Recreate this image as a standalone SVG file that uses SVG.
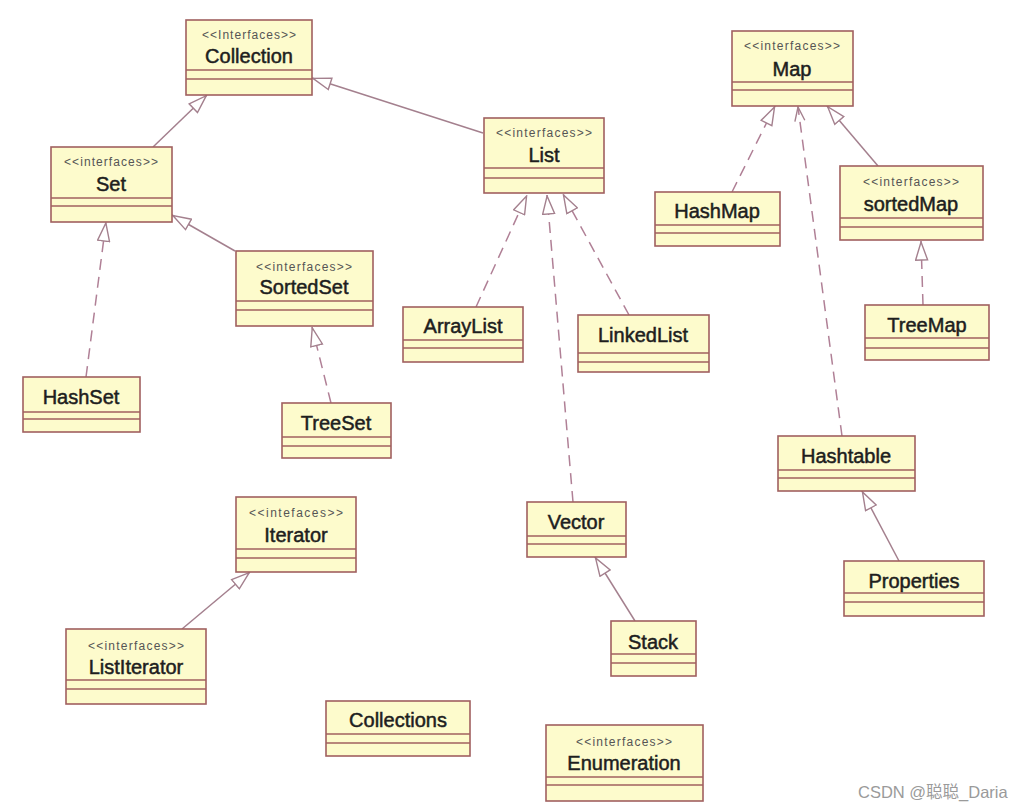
<svg xmlns="http://www.w3.org/2000/svg" width="1024" height="810" viewBox="0 0 1024 810">
<defs>
<style>
.box{fill:#fdfbcc;stroke:#a0605f;stroke-width:1.6}
.div{stroke:#a0605f;stroke-width:1.4}
.st{font-family:"Liberation Sans",Arial,sans-serif;font-size:12px;fill:#555;text-anchor:middle}
.nm{font-family:"Liberation Sans",Arial,sans-serif;font-size:20px;fill:#1e1e1e;stroke:#1e1e1e;stroke-width:0.5;text-anchor:middle}
.ln{fill:none;stroke:#a4808e;stroke-width:1.5}
.da{stroke-dasharray:11,7;stroke:#b08096}
.wm{font-family:"Liberation Sans","Noto Sans CJK SC",sans-serif;font-size:16.5px;fill:#9a9a9a}
</style>
<marker id="tri" viewBox="0 0 20 14" refX="20" refY="7" markerWidth="20" markerHeight="14" markerUnits="userSpaceOnUse" orient="auto">
<path d="M1,1 L19,7 L1,13 Z" fill="#ffffff" stroke="#a4808e" stroke-width="1.4" stroke-dasharray="none"/>
</marker>
<marker id="open" viewBox="0 0 16 12" refX="15" refY="6" markerWidth="16" markerHeight="12" markerUnits="userSpaceOnUse" orient="auto">
<path d="M1,1 L15,6 L1,11" fill="none" stroke="#a4808e" stroke-width="1.4" stroke-dasharray="none"/>
</marker>
</defs>
<rect x="0" y="0" width="1024" height="810" fill="#ffffff"/>

<g id="connectors">
<line class="ln" x1="153" y1="147" x2="207" y2="95" marker-end="url(#tri)"/>
<line class="ln" x1="483" y1="133" x2="312" y2="78" marker-end="url(#tri)"/>
<line class="ln da" x1="86" y1="377" x2="106" y2="222" marker-end="url(#tri)"/>
<line class="ln" x1="235" y1="251" x2="172" y2="215" marker-end="url(#tri)"/>
<line class="ln da" x1="331" y1="403" x2="312" y2="327" marker-end="url(#tri)"/>
<line class="ln da" x1="476" y1="307" x2="527" y2="195" marker-end="url(#tri)"/>
<line class="ln da" x1="573" y1="502" x2="547" y2="195" marker-end="url(#tri)"/>
<line class="ln da" x1="629" y1="315" x2="563" y2="194" marker-end="url(#tri)"/>
<line class="ln da" x1="732" y1="192" x2="775" y2="106" marker-end="url(#tri)"/>
<line class="ln da" x1="842" y1="436" x2="798" y2="107" marker-end="url(#open)"/>
<line class="ln" x1="878" y1="166" x2="827" y2="106" marker-end="url(#tri)"/>
<line class="ln da" x1="923" y1="305" x2="921" y2="241" marker-end="url(#tri)"/>
<line class="ln" x1="635" y1="621" x2="595" y2="557" marker-end="url(#tri)"/>
<line class="ln" x1="899" y1="561" x2="862" y2="491" marker-end="url(#tri)"/>
<line class="ln" x1="182" y1="629" x2="250" y2="572" marker-end="url(#tri)"/>
</g>

<g id="Collection">
<rect class="box" x="186" y="20" width="126" height="75"/>
<line class="div" x1="186" y1="70" x2="312" y2="70"/><line class="div" x1="186" y1="79" x2="312" y2="79"/>
<text class="st" x="249" y="39" textLength="94" lengthAdjust="spacing">&lt;&lt;Interfaces&gt;&gt;</text>
<text class="nm" x="249" y="63">Collection</text>
</g>
<g id="Set">
<rect class="box" x="51" y="147" width="121" height="75"/>
<line class="div" x1="51" y1="198" x2="172" y2="198"/><line class="div" x1="51" y1="206" x2="172" y2="206"/>
<text class="st" x="111" y="166" textLength="94" lengthAdjust="spacing">&lt;&lt;interfaces&gt;&gt;</text>
<text class="nm" x="111" y="191">Set</text>
</g>
<g id="List">
<rect class="box" x="484" y="118" width="120" height="75"/>
<line class="div" x1="484" y1="168" x2="604" y2="168"/><line class="div" x1="484" y1="178" x2="604" y2="178"/>
<text class="st" x="544" y="137" textLength="96" lengthAdjust="spacing">&lt;&lt;interfaces&gt;&gt;</text>
<text class="nm" x="544" y="162">List</text>
</g>
<g id="Map">
<rect class="box" x="732" y="31" width="121" height="75"/>
<line class="div" x1="732" y1="82" x2="853" y2="82"/><line class="div" x1="732" y1="90" x2="853" y2="90"/>
<text class="st" x="792" y="50" textLength="96" lengthAdjust="spacing">&lt;&lt;interfaces&gt;&gt;</text>
<text class="nm" x="792" y="76">Map</text>
</g>
<g id="HashMap">
<rect class="box" x="655" y="192" width="125" height="54"/>
<line class="div" x1="655" y1="225" x2="780" y2="225"/><line class="div" x1="655" y1="233" x2="780" y2="233"/>
<text class="nm" x="717" y="218">HashMap</text>
</g>
<g id="sortedMap">
<rect class="box" x="840" y="166" width="143" height="74"/>
<line class="div" x1="840" y1="218" x2="983" y2="218"/><line class="div" x1="840" y1="227" x2="983" y2="227"/>
<text class="st" x="911" y="186" textLength="96" lengthAdjust="spacing">&lt;&lt;interfaces&gt;&gt;</text>
<text class="nm" x="911" y="211">sortedMap</text>
</g>
<g id="SortedSet">
<rect class="box" x="236" y="251" width="137" height="75"/>
<line class="div" x1="236" y1="301" x2="373" y2="301"/><line class="div" x1="236" y1="310" x2="373" y2="310"/>
<text class="st" x="304" y="271" textLength="96" lengthAdjust="spacing">&lt;&lt;interfaces&gt;&gt;</text>
<text class="nm" x="304" y="294">SortedSet</text>
</g>
<g id="ArrayList">
<rect class="box" x="403" y="307" width="120" height="55"/>
<line class="div" x1="403" y1="340" x2="523" y2="340"/><line class="div" x1="403" y1="348" x2="523" y2="348"/>
<text class="nm" x="463" y="333">ArrayList</text>
</g>
<g id="LinkedList">
<rect class="box" x="578" y="315" width="131" height="57"/>
<line class="div" x1="578" y1="353" x2="709" y2="353"/><line class="div" x1="578" y1="362" x2="709" y2="362"/>
<text class="nm" x="643" y="342">LinkedList</text>
</g>
<g id="TreeMap">
<rect class="box" x="865" y="305" width="124" height="55"/>
<line class="div" x1="865" y1="338" x2="989" y2="338"/><line class="div" x1="865" y1="348" x2="989" y2="348"/>
<text class="nm" x="927" y="332">TreeMap</text>
</g>
<g id="HashSet">
<rect class="box" x="23" y="377" width="117" height="55"/>
<line class="div" x1="23" y1="412" x2="140" y2="412"/><line class="div" x1="23" y1="419" x2="140" y2="419"/>
<text class="nm" x="81" y="404">HashSet</text>
</g>
<g id="TreeSet">
<rect class="box" x="282" y="403" width="109" height="55"/>
<line class="div" x1="282" y1="437" x2="391" y2="437"/><line class="div" x1="282" y1="446" x2="391" y2="446"/>
<text class="nm" x="336" y="430">TreeSet</text>
</g>
<g id="Hashtable">
<rect class="box" x="778" y="436" width="137" height="55"/>
<line class="div" x1="778" y1="470" x2="915" y2="470"/><line class="div" x1="778" y1="478" x2="915" y2="478"/>
<text class="nm" x="846" y="463">Hashtable</text>
</g>
<g id="Vector">
<rect class="box" x="527" y="502" width="99" height="55"/>
<line class="div" x1="527" y1="536" x2="626" y2="536"/><line class="div" x1="527" y1="544" x2="626" y2="544"/>
<text class="nm" x="576" y="529">Vector</text>
</g>
<g id="Stack">
<rect class="box" x="611" y="621" width="85" height="55"/>
<line class="div" x1="611" y1="654" x2="696" y2="654"/><line class="div" x1="611" y1="663" x2="696" y2="663"/>
<text class="nm" x="653" y="649">Stack</text>
</g>
<g id="Properties">
<rect class="box" x="844" y="561" width="140" height="55"/>
<line class="div" x1="844" y1="593" x2="984" y2="593"/><line class="div" x1="844" y1="602" x2="984" y2="602"/>
<text class="nm" x="914" y="588">Properties</text>
</g>
<g id="Iterator">
<rect class="box" x="236" y="497" width="120" height="75"/>
<line class="div" x1="236" y1="549" x2="356" y2="549"/><line class="div" x1="236" y1="558" x2="356" y2="558"/>
<text class="st" x="296" y="517" textLength="94" lengthAdjust="spacing">&lt;&lt;intefaces&gt;&gt;</text>
<text class="nm" x="296" y="542">Iterator</text>
</g>
<g id="ListIterator">
<rect class="box" x="66" y="629" width="140" height="75"/>
<line class="div" x1="66" y1="680" x2="206" y2="680"/><line class="div" x1="66" y1="689" x2="206" y2="689"/>
<text class="st" x="136" y="650" textLength="96" lengthAdjust="spacing">&lt;&lt;interfaces&gt;&gt;</text>
<text class="nm" x="136" y="674">ListIterator</text>
</g>
<g id="Collections">
<rect class="box" x="326" y="701" width="144" height="55"/>
<line class="div" x1="326" y1="734" x2="470" y2="734"/><line class="div" x1="326" y1="743" x2="470" y2="743"/>
<text class="nm" x="398" y="727">Collections</text>
</g>
<g id="Enumeration">
<rect class="box" x="546" y="725" width="157" height="76"/>
<line class="div" x1="546" y1="777" x2="703" y2="777"/><line class="div" x1="546" y1="785" x2="703" y2="785"/>
<text class="st" x="624" y="746" textLength="96" lengthAdjust="spacing">&lt;&lt;interfaces&gt;&gt;</text>
<text class="nm" x="624" y="770">Enumeration</text>
</g>

<text class="wm" x="858" y="798">CSDN @聪聪_Daria</text>
</svg>
